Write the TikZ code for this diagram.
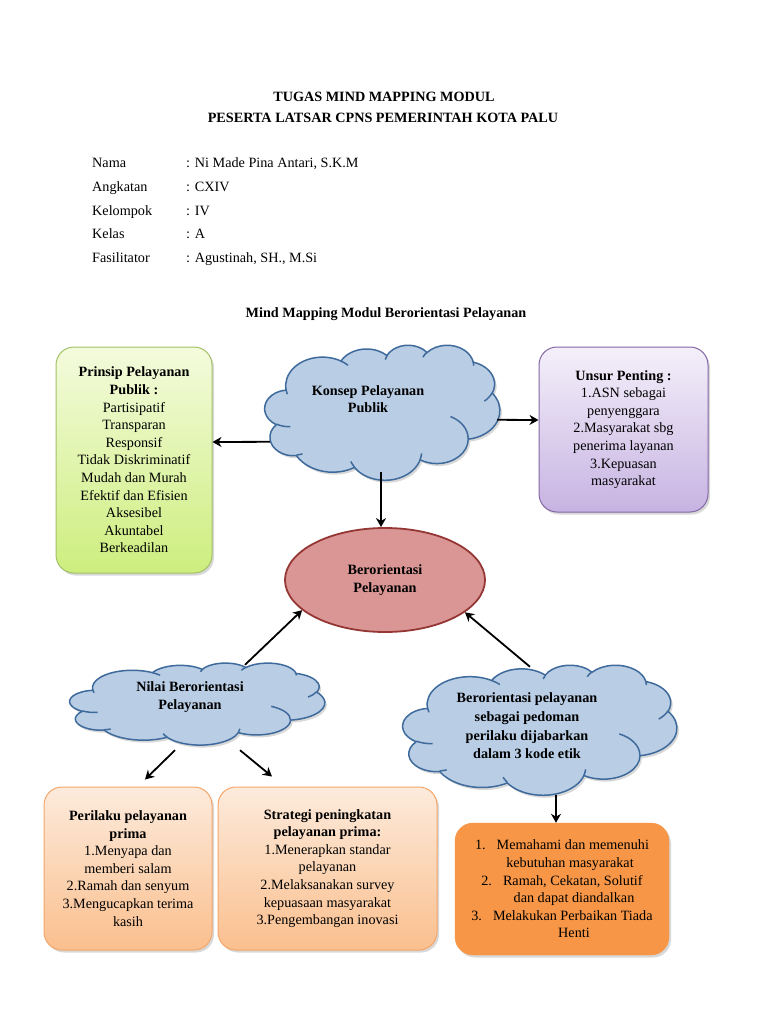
\documentclass[tikz,border=0pt]{standalone}
\usepackage{fontspec}
\setmainfont{Liberation Serif}
\usetikzlibrary{shapes.geometric,arrows.meta,shadows,calc}
\definecolor{cloudfill}{HTML}{B9CDE5}
\definecolor{cloudline}{HTML}{3F6A9C}
\definecolor{greentop}{HTML}{F4FBDD}
\definecolor{greenbot}{HTML}{CDEE7E}
\definecolor{greenline}{HTML}{A3C266}
\definecolor{purptop}{HTML}{F4F0FA}
\definecolor{purpbot}{HTML}{C7B3E2}
\definecolor{purpline}{HTML}{8467A6}
\definecolor{orgtop}{HTML}{FDEBDC}
\definecolor{orgbot}{HTML}{FABF8E}
\definecolor{orgline}{HTML}{F4A66A}
\definecolor{orgsolid}{HTML}{F79646}
\definecolor{ellfill}{HTML}{D99694}
\definecolor{ellline}{HTML}{953735}
% Office-style arc: radii, visual start angle, sweep
\newcommand\oarc[4]{arc[x radius=#1, y radius=#2,
  start angle={atan2((#1)*sin(#3),(#2)*cos(#3))},
  delta angle={mod(atan2((#1)*sin((#3)+(#4)),(#2)*cos((#3)+(#4)))-atan2((#1)*sin(#3),(#2)*cos(#3))+720,360)}]}
% cloud drawn into the box of a named node
\newcommand\officecloud[3]{% node, width, height
  \pgfmathsetmacro\cwx{#2/432}\pgfmathsetmacro\chy{#3/432}
  \begin{scope}[shift={(#1.north west)}, x=\cwx pt, y=-\chy pt]
  \path[cloudstyle] (39.00,143.70)
    \oarc{67.53}{91.90}{-190.4875}{123.7805}
    \oarc{53.33}{72.67}{-144.1024}{89.9452}
    \oarc{43.65}{59.45}{-145.8079}{99.7230}
    \oarc{48.57}{65.95}{-130.9861}{117.2417}
    \oarc{53.33}{72.73}{-78.7089}{109.0269}
    \oarc{67.75}{92.20}{-46.2673}{130.2690}
    \oarc{57.85}{78.67}{0.6250}{114.0333}
    \oarc{67.52}{92.15}{22.4516}{115.1726}
    \oarc{77.20}{105.43}{66.2426}{75.7110}
    \oarc{43.60}{59.18}{-274.9421}{146.7356}
    \oarc{43.45}{59.45}{-246.8285}{152.5189}
    -- cycle;
  \path[draw=cloudline, line width=1.5pt]
    (46.93,261.77) \oarc{43.45}{59.45}{86.7420}{26.4295}
    (69.28,348.99) \oarc{43.60}{59.18}{73.6105}{11.4475}
    (164.78,390.90) \oarc{67.52}{92.15}{137.6242}{14.0811}
    (288.27,347.51) \oarc{67.52}{92.15}{6.4533}{15.9984}
    (341.29,229.54) \oarc{57.85}{78.67}{-70.2924}{70.9174}
    (417.98,153.54) \oarc{53.33}{72.73}{30.3180}{27.7515}
    (383.24,54.26) \oarc{48.57}{65.95}{-13.7443}{14.8589}
    (290.78,39.52) \oarc{48.57}{65.95}{-149.1815}{18.1954}
    (221.41,47.20) \oarc{43.65}{59.45}{-163.4943}{17.5529}
    (140.00,51.92) \oarc{67.53}{91.90}{-66.7070}{12.3194}
    (41.27,157.89) \oarc{67.53}{91.90}{157.6544}{11.8582};
  \end{scope}}
\begin{document}
\begin{tikzpicture}[x=1pt,y=-1pt,
  every node/.style={font=\fontsize{14.2}{17.6}\selectfont, inner sep=0pt},
  arr/.style={-{Stealth[length=9pt,width=10pt]}, line width=1.8pt, black},
  shad/.style={drop shadow={opacity=0.3, shadow xshift=2pt, shadow yshift=-2.5pt}},
  gbox/.style={rectangle, rounded corners=18pt, align=center, shad},
  cloudstyle/.style={draw=cloudline, line width=1.5pt, fill=cloudfill, shad},
  cloudarea/.style={rectangle},
  lbl/.style={anchor=base west},
  bold/.style={font=\fontsize{14.2}{17.6}\selectfont\bfseries}
]
\useasboundingbox[fill=white] (0,0) rectangle (768,1024);

% header
\node[bold] (h1) at (384,97) {TUGAS MIND MAPPING MODUL};
\node[bold] (h2) at (383,118) {PESERTA LATSAR CPNS PEMERINTAH KOTA PALU};

\node[lbl] (l1) at (92,168) {Nama};
\node[lbl] (l2) at (92,192) {Angkatan};
\node[lbl] (l3) at (92,216) {Kelompok};
\node[lbl] (l4) at (92,239) {Kelas};
\node[lbl] (l5) at (92,262) {Fasilitator};
\node[lbl] (v1) at (186,168) {: Ni Made Pina Antari, S.K.M};
\node[lbl] (v2) at (186,192) {: CXIV};
\node[lbl] (v3) at (186,216) {: IV};
\node[lbl] (v4) at (186,239) {: A};
\node[lbl] (v5) at (186,262) {: Agustinah, SH., M.Si};

\node[bold] (title) at (386,314) {Mind Mapping Modul Berorientasi Pelayanan};

% left green box
\node[gbox, draw=greenline, line width=1pt, top color=greentop, bottom color=greenbot,
      minimum width=156pt, minimum height=226pt] (prinsip) at (134,460)
 {\textbf{Prinsip Pelayanan}\\ \textbf{Publik :}\\ Partisipatif\\ Transparan\\ Responsif\\ Tidak Diskriminatif\\ Mudah dan Murah\\ Efektif dan Efisien\\ Aksesibel\\ Akuntabel\\ Berkeadilan};

% purple box
\node[gbox, draw=purpline, line width=1pt, top color=purptop, bottom color=purpbot,
      minimum width=169pt, minimum height=165pt] (unsur) at (623.5,429.5)
 {\textbf{Unsur Penting :}\\ 1.ASN sebagai\\ penyenggara\\ 2.Masyarakat sbg\\ penerima layanan\\ 3.Kepuasan\\ masyarakat};

% top cloud
\node[cloudarea, minimum width=235pt, minimum height=135pt] (konsep) at (382.5,412.5) {};
\officecloud{konsep}{235}{135}
\node[align=center, bold] (konsept) at (368,399) {Konsep Pelayanan\\ Publik};

% ellipse
\node[ellipse, draw=ellline, line width=1.8pt, fill=ellfill, minimum width=200pt, minimum height=104pt,
      align=center, bold] (bero) at (385,580)
 {Berorientasi\\ Pelayanan};

% bottom left cloud
\node[cloudarea, minimum width=255pt, minimum height=82pt] (nilai) at (197.5,704) {};
\officecloud{nilai}{255}{82}
\node[align=center, bold] (nilait) at (190,697) {Nilai Berorientasi\\ Pelayanan};

% bottom right cloud
\node[cloudarea, minimum width=274pt, minimum height=130pt] (pedoman) at (540,730) {};
\officecloud{pedoman}{274}{130}
\node[align=center, font=\fontsize{14.2}{18.6}\selectfont\bfseries] (pedomant) at (527,726)
 {Berorientasi pelayanan\\ sebagai pedoman\\ perilaku dijabarkan\\ dalam 3 kode etik};

% bottom boxes
\node[gbox, draw=orgline, line width=1pt, top color=orgtop, bottom color=orgbot,
      minimum width=168pt, minimum height=163pt] (perilaku) at (128,868.5)
 {\textbf{Perilaku pelayanan}\\ \textbf{prima}\\ 1.Menyapa dan\\ memberi salam\\ 2.Ramah dan senyum\\ 3.Mengucapkan terima\\ kasih};

\node[gbox, draw=orgline, line width=1pt, top color=orgtop, bottom color=orgbot,
      minimum width=219pt, minimum height=163pt] (strategi) at (327.5,868.5)
 {\textbf{Strategi peningkatan}\\ \textbf{pelayanan prima:}\\ 1.Menerapkan standar\\ pelayanan\\ 2.Melaksanakan survey\\ kepuasaan masyarakat\\ 3.Pengembangan inovasi};

\node[gbox, fill=orgsolid, draw=orgsolid, minimum width=214pt, minimum height=132pt] (etik) at (562,889)
 {1.\hspace{11pt}Memahami dan memenuhi\\ \hspace{16pt}kebutuhan masyarakat\\
  2.\hspace{11pt}Ramah, Cekatan, Solutif\\ \hspace{24pt}dan dapat diandalkan\\
  3.\hspace{11pt}Melakukan Perbaikan Tiada\\ \hspace{24pt}Henti};

% arrows
\draw[arr] ($(konsep.north west)+(5,97)$) -- (prinsip.east |- 0,442);
\draw[arr] ($(konsep.north east)+(-3,75)$) -- (unsur.west |- 0,420);
\draw[arr] ($(konsep.south)+(-1.5,-8)$) -- ($(konsep.south |- bero.north)+(-1.5,0)$);
\draw[arr] ($(nilai.north)+(47.5,2)$) -- (bero.200);
\draw[arr] ($(pedoman.north)+(-10,2)$) -- (bero.338);
\draw[arr] ($(nilai.south)+(-22.5,5)$) -- ($(perilaku.north)+(17,-7)$);
\draw[arr] ($(nilai.south)+(42.5,5)$) -- ($(strategi.north)+(-55.5,-10)$);
\draw[arr] ($(pedoman.south)+(16,0)$) -- ($(etik.north)+(-6,0)$);
\end{tikzpicture}
\end{document}
